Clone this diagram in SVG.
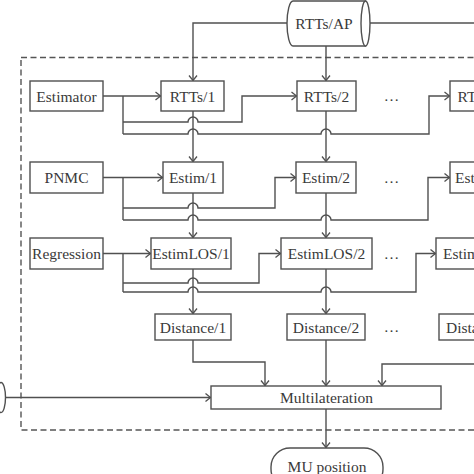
<svg xmlns="http://www.w3.org/2000/svg" width="474" height="474" viewBox="0 0 474 474">
<style>
.box{fill:#fff;stroke:#505050;stroke-width:1.4}
.lbl{font-family:"Liberation Serif","Times New Roman",serif;font-size:15.5px;fill:#3a3a3a;text-anchor:middle}
.lft{text-anchor:start}
.ln{fill:none;stroke:#505050;stroke-width:1.4}
.arr{fill:none;stroke:#505050;stroke-width:1.4;marker-end:url(#ah)}
.dash{fill:none;stroke:#555;stroke-width:1.4;stroke-dasharray:6 3.5}
</style>
<defs>
<marker id="ah" viewBox="-6 -5 7 10" refX="0" refY="0" markerWidth="7" markerHeight="10" markerUnits="userSpaceOnUse" orient="auto">
<path d="M-5,-4 L0,0 L-5,4" fill="none" stroke="#505050" stroke-width="1.3"/>
</marker>
</defs>
<rect width="474" height="474" fill="#fff"/>
<rect class="dash" x="21" y="57.5" width="520" height="372.5"/>

<g id="connectors">
<path class="arr" d="M287,23 H193 V80.5"/>
<path class="ln" d="M370,23 H474"/>
<path class="arr" d="M326,46 V80.5"/>
<path class="arr" d="M103,96 H160.5"/>
<path class="ln" d="M123,96 V134"/>
<path class="arr" d="M123,122 H188 A5,5 0 0 1 198,122 H242 V96 H296.5"/>
<path class="arr" d="M123,134 H188 A5,5 0 0 1 198,134 H321 A5,5 0 0 1 331,134 H429 V96 H449.5"/>
<path class="arr" d="M193,111 V161.5"/>
<path class="arr" d="M326,111 V161.5"/>
<path class="arr" d="M103,177.5 H162.5"/>
<path class="ln" d="M123,177.5 V220"/>
<path class="arr" d="M123,208 H188 A5,5 0 0 1 198,208 H275 V177.5 H295.5"/>
<path class="arr" d="M123,220 H188 A5,5 0 0 1 198,220 H321 A5,5 0 0 1 331,220 H428 V177.5 H449.5"/>
<path class="arr" d="M193,193 V237.5"/>
<path class="arr" d="M326,193 V237.5"/>
<path class="arr" d="M103,253.5 H150.5"/>
<path class="ln" d="M123,253.5 V292"/>
<path class="arr" d="M123,283 H188 A5,5 0 0 1 198,283 H259 V253.5 H280.5"/>
<path class="arr" d="M123,292 H188 A5,5 0 0 1 198,292 H321 A5,5 0 0 1 331,292 H416 V253.5 H435.5"/>
<path class="arr" d="M193,269 V313.5"/>
<path class="arr" d="M326,269 V313.5"/>
<path class="arr" d="M193,340 V362 H265 V385.5"/>
<path class="arr" d="M326,340 V385.5"/>
<path class="arr" d="M474,364 H382 V385.5"/>
<path class="arr" d="M5.5,397.5 H210.5"/>
<path class="arr" d="M326,409 V447.5"/>
</g>

<g id="rtts-ap">
<path class="box" d="M293,1 H365.5 V46 H293 A6,22.5 0 0 1 293,1 Z"/>
<ellipse class="box" cx="365.5" cy="23.5" rx="4.5" ry="22.5"/>
<text class="lbl" x="324" y="29">RTTs/AP</text>
</g>

<g id="estimator"><rect class="box" x="30" y="81" width="73" height="30"/><text class="lbl" x="66.5" y="101.5">Estimator</text></g>
<g id="rtts1"><rect class="box" x="161" y="81" width="63" height="30"/><text class="lbl" x="192.5" y="101.5">RTTs/1</text></g>
<g id="rtts2"><rect class="box" x="297" y="81" width="59" height="30"/><text class="lbl" x="326.5" y="101.5">RTTs/2</text></g>
<g id="rttsn"><rect class="box" x="450" y="81" width="60" height="30"/><text class="lbl lft" x="457.5" y="101.5">RT</text></g>
<text class="lbl" x="391.5" y="101">…</text>

<g id="pnmc"><rect class="box" x="30" y="162" width="73" height="31"/><text class="lbl" x="66.5" y="183">PNMC</text></g>
<g id="estim1"><rect class="box" x="163" y="162" width="60" height="31"/><text class="lbl" x="193" y="183">Estim/1</text></g>
<g id="estim2"><rect class="box" x="296" y="162" width="60" height="31"/><text class="lbl" x="326" y="183">Estim/2</text></g>
<g id="estimn"><rect class="box" x="450" y="162" width="60" height="31"/><text class="lbl lft" x="455" y="183">Est</text></g>
<text class="lbl" x="391.5" y="183">…</text>

<g id="regression"><rect class="box" x="30" y="238" width="73" height="31"/><text class="lbl" x="66.5" y="259">Regression</text></g>
<g id="estimlos1"><rect class="box" x="151" y="238" width="80" height="31"/><text class="lbl" x="191" y="259">EstimLOS/1</text></g>
<g id="estimlos2"><rect class="box" x="281" y="238" width="91" height="31"/><text class="lbl" x="326.5" y="259">EstimLOS/2</text></g>
<g id="estimlosn"><rect class="box" x="436" y="238" width="80" height="31"/><text class="lbl lft" x="443" y="259">Estim</text></g>
<text class="lbl" x="391.5" y="259">…</text>

<g id="distance1"><rect class="box" x="155" y="314" width="76" height="26"/><text class="lbl" x="193" y="332.5">Distance/1</text></g>
<g id="distance2"><rect class="box" x="287" y="314" width="78" height="26"/><text class="lbl" x="326" y="332.5">Distance/2</text></g>
<g id="distancen"><rect class="box" x="439" y="314" width="80" height="26"/><text class="lbl lft" x="446" y="332.5">Dista</text></g>
<text class="lbl" x="391.5" y="332">…</text>

<g id="multilateration"><rect class="box" x="211" y="386" width="230" height="23"/><text class="lbl" x="326.5" y="403">Multilateration</text></g>

<g id="left-source"><ellipse class="box" cx="1" cy="397.5" rx="4.5" ry="15"/></g>

<g id="mu-position"><rect class="box" x="271" y="448" width="112" height="40" rx="19" ry="19"/><text class="lbl" x="327" y="472">MU position</text></g>
</svg>
